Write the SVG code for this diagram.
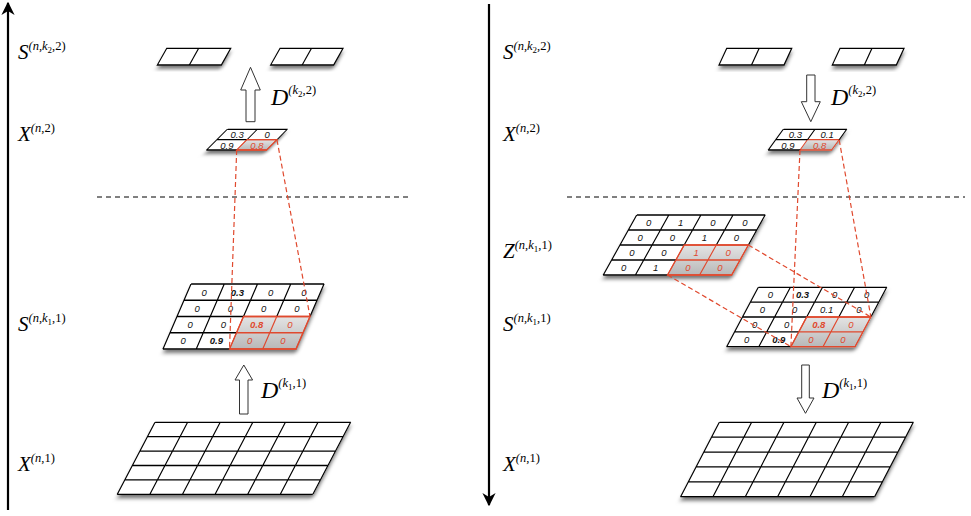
<svg xmlns="http://www.w3.org/2000/svg" width="971" height="516" viewBox="0 0 971 516">
<defs>
<style>
.g{fill:#fff;filter:url(#sh)}
.gl{fill:none;stroke:#000;stroke-width:1.3}
.hl{fill:url(#gr);stroke:#e0492e;stroke-width:1.3}
.red{fill:none;stroke:#e0492e;stroke-width:1.2;stroke-dasharray:5,3}
.hd{fill:none;stroke:#000;stroke-width:1;stroke-dasharray:5,4}
.ax{stroke:#000;stroke-width:2.2}
.ar{fill:#fff;stroke:#333;stroke-width:1}
.v{font-family:"Liberation Sans",Arial,sans-serif;font-style:italic;font-size:9.5px;text-anchor:middle;fill:#111}
.b{font-weight:bold}
.r{fill:#e0492e}
.lab{font-family:"Liberation Serif","Times New Roman",serif;font-style:italic;font-size:21px;fill:#000}
.dl{font-family:"Liberation Serif","Times New Roman",serif;font-style:italic;font-size:24px;fill:#000}
.sp{font-size:12.5px}
.sb{font-size:9px;font-style:normal}
.n{font-style:normal}
</style>
<linearGradient id="gr" x1="0" y1="0" x2="0" y2="1"><stop offset="0" stop-color="#e4e4e4"/><stop offset="1" stop-color="#b8b8b8"/></linearGradient>
<filter id="sh" x="-10%" y="-20%" width="130%" height="160%"><feDropShadow dx="2" dy="4" stdDeviation="2" flood-color="#000" flood-opacity="0.55"/></filter>
<marker id="mk" viewBox="0 0 10 10" refX="9" refY="5" markerWidth="6" markerHeight="6" orient="auto"><path d="M0,0 L10,5 L0,10 L3,5 z" fill="#000"/></marker>
</defs>
<rect width="971" height="516" fill="#fff"/>

<g id="axes">
<line class="ax" x1="8" y1="510" x2="8" y2="3" marker-end="url(#mk)"/>
<line class="ax" x1="489" y1="4" x2="489" y2="505" marker-end="url(#mk)"/>
<line class="hd" x1="97" y1="197" x2="410" y2="197"/>
<line class="hd" x1="567" y1="197" x2="965" y2="197"/>
</g>

<g id="labels">
<text class="lab" x="18" y="59">S<tspan class="sp" dy="-9">(<tspan>n</tspan><tspan class="n">,</tspan>k</tspan><tspan class="sb" dy="3">2</tspan><tspan class="sp n" dy="-3">,2)</tspan></text>
<text class="lab" x="18" y="141">X<tspan class="sp" dy="-9">(n<tspan class="n">,2)</tspan></tspan></text>
<text class="lab" x="18" y="331">S<tspan class="sp" dy="-9">(n<tspan class="n">,</tspan>k</tspan><tspan class="sb" dy="3">1</tspan><tspan class="sp n" dy="-3">,1)</tspan></text>
<text class="lab" x="18" y="471">X<tspan class="sp" dy="-9">(n<tspan class="n">,1)</tspan></tspan></text>
<text class="lab" x="503" y="59">S<tspan class="sp" dy="-9">(n<tspan class="n">,</tspan>k</tspan><tspan class="sb" dy="3">2</tspan><tspan class="sp n" dy="-3">,2)</tspan></text>
<text class="lab" x="503" y="141">X<tspan class="sp" dy="-9">(n<tspan class="n">,2)</tspan></tspan></text>
<text class="lab" x="503" y="258">Z<tspan class="sp" dy="-9">(n<tspan class="n">,</tspan>k</tspan><tspan class="sb" dy="3">1</tspan><tspan class="sp n" dy="-3">,1)</tspan></text>
<text class="lab" x="503" y="331">S<tspan class="sp" dy="-9">(n<tspan class="n">,</tspan>k</tspan><tspan class="sb" dy="3">1</tspan><tspan class="sp n" dy="-3">,1)</tspan></text>
<text class="lab" x="503" y="471">X<tspan class="sp" dy="-9">(n<tspan class="n">,1)</tspan></tspan></text>
</g>

<!-- LEFT -->
<g id="L_S2">
<g transform="translate(166.7,48.3) matrix(1,0,-0.56,1,0,0)"><rect class="g" width="64" height="16.7"/><rect class="gl" width="64" height="16.7"/><line class="gl" x1="32" y1="0" x2="32" y2="16.7"/></g>
<g transform="translate(280,48.3) matrix(1,0,-0.56,1,0,0)"><rect class="g" width="63" height="16.7"/><rect class="gl" width="63" height="16.7"/><line class="gl" x1="31.5" y1="0" x2="31.5" y2="16.7"/></g>
</g>
<g id="L_D2">
<polygon class="ar" points="246,121.7 246,90 240.7,90 250.5,67.3 260.3,90 255,90 255,121.7"/>
<text class="dl" x="271" y="105">D<tspan class="sp" dy="-11">(k</tspan><tspan class="sb" dy="3">2</tspan><tspan class="sp n" dy="-3">,2)</tspan></text>
</g>
<g id="L_X2">
<g transform="translate(227.3,129.3) matrix(1,0,-1,1,0,0)"><rect class="g" width="60" height="20.7"/><rect class="hl" x="30" y="10.35" width="30" height="10.35"/><path class="gl" d="M0,0H60M0,10.35H30M0,20.7H30M0,0V20.7M30,0V10.35M60,0V10.35"/><path d="M30,10.35H60V20.7H30Z" fill="none" stroke="#e0492e" stroke-width="1.3"/></g>
<text class="v" x="237.2" y="138">0.3</text><text class="v" x="267.2" y="138">0</text>
<text class="v" x="226.9" y="148.5">0.9</text><text class="v r" x="256.9" y="148.5">0.8</text>
</g>
<g id="L_S1">
<g transform="translate(191,284) matrix(1,0,-0.4308,1,0,0)"><rect class="g" width="133" height="65"/><rect class="hl" x="66.5" y="32.5" width="66.5" height="32.5"/>
<path class="gl" d="M0,0H133M0,16.25H133M0,32.5H66.5M0,48.75H66.5M0,65H66.5M0,0V65M33.25,0V65M66.5,0V32.5M99.75,0V32.5M133,0V32.5"/>
<path d="M66.5,32.5H133V65H66.5ZM66.5,48.75H133M99.75,32.5V65" fill="none" stroke="#e0492e" stroke-width="1.3"/></g>
<text class="v" x="204.1" y="295.5">0</text><text class="v b" x="237.4" y="295.5">0.3</text><text class="v" x="270.6" y="295.5">0</text><text class="v" x="303.9" y="295.5">0</text>
<text class="v" x="197.1" y="311.8">0</text><text class="v" x="230.4" y="311.8">0</text><text class="v" x="263.6" y="311.8">0</text><text class="v" x="296.9" y="311.8">0</text>
<text class="v" x="190.1" y="328">0</text><text class="v" x="223.4" y="328">0</text><text class="v r b" x="256.6" y="328">0.8</text><text class="v r" x="289.9" y="328">0</text>
<text class="v" x="183.1" y="344.3">0</text><text class="v b" x="216.4" y="344.3">0.9</text><text class="v r" x="249.6" y="344.3">0</text><text class="v r" x="282.9" y="344.3">0</text>
</g>
<g id="L_D1">
<polygon class="ar" points="239.5,414 239.5,380 235,380 243.8,365 252.6,380 248,380 248,414"/>
<text class="dl" x="261" y="398">D<tspan class="sp" dy="-11">(k</tspan><tspan class="sb" dy="3">1</tspan><tspan class="sp n" dy="-3">,1)</tspan></text>
</g>
<g id="L_X1">
<g transform="translate(155,422.3) matrix(1,0,-0.5236,1,0,0)"><rect class="g" width="195.6" height="72"/>
<path class="gl" d="M0,0H195.6M0,14.4H195.6M0,28.8H195.6M0,43.2H195.6M0,57.6H195.6M0,72H195.6M0,0V72M32.6,0V72M65.2,0V72M97.8,0V72M130.4,0V72M163,0V72M195.6,0V72"/></g>
</g>

<!-- RIGHT -->
<g id="R_S2">
<g transform="translate(726.7,48.3) matrix(1,0,-0.46,1,0,0)"><rect class="g" width="65" height="16.7"/><rect class="gl" width="65" height="16.7"/><line class="gl" x1="32.5" y1="0" x2="32.5" y2="16.7"/></g>
<g transform="translate(840,48.3) matrix(1,0,-0.46,1,0,0)"><rect class="g" width="64" height="16.7"/><rect class="gl" width="64" height="16.7"/><line class="gl" x1="32" y1="0" x2="32" y2="16.7"/></g>
</g>
<g id="R_D2">
<polygon class="ar" points="806.7,75 815,75 815,101.7 820.3,101.7 810.8,121.7 801.3,101.7 806.7,101.7"/>
<text class="dl" x="831" y="105">D<tspan class="sp" dy="-11">(k</tspan><tspan class="sb" dy="3">2</tspan><tspan class="sp n" dy="-3">,2)</tspan></text>
</g>
<g id="R_X2">
<g transform="translate(783.3,129.3) matrix(1,0,-0.725,1,0,0)"><rect class="g" width="63.4" height="20.7"/><rect class="hl" x="31.7" y="10.35" width="31.7" height="10.35"/><path class="gl" d="M0,0H63.4M0,10.35H31.7M0,20.7H31.7M0,0V20.7M31.7,0V10.35M63.4,0V10.35"/></g>
<text class="v" x="795.4" y="138">0.3</text><text class="v" x="827.1" y="138">0.1</text>
<text class="v" x="787.9" y="148.5">0.9</text><text class="v r" x="819.6" y="148.5">0.8</text>
</g>
<g id="R_Z">
<g transform="translate(636.7,215) matrix(1,0,-0.5567,1,0,0)"><rect class="g" width="128.4" height="60"/><rect class="hl" x="64.2" y="30" width="64.2" height="30"/>
<path class="gl" d="M0,0H128.4M0,15H128.4M0,30H64.2M0,45H64.2M0,60H64.2M0,0V60M32.1,0V60M64.2,0V30M96.3,0V30M128.4,0V30"/>
<path d="M64.2,30H128.4V60H64.2ZM64.2,45H128.4M96.3,30V60" fill="none" stroke="#e0492e" stroke-width="1.3"/></g>
<text class="v" x="648.6" y="226">0</text><text class="v" x="680.7" y="226">1</text><text class="v" x="712.8" y="226">0</text><text class="v" x="744.9" y="226">0</text>
<text class="v" x="640.2" y="241">0</text><text class="v" x="672.3" y="241">0</text><text class="v" x="704.4" y="241">1</text><text class="v" x="736.5" y="241">0</text>
<text class="v" x="631.9" y="256">0</text><text class="v" x="664" y="256">0</text><text class="v r" x="696.1" y="256">1</text><text class="v r" x="728.2" y="256">0</text>
<text class="v" x="623.6" y="271">0</text><text class="v" x="655.7" y="271">1</text><text class="v r" x="687.8" y="271">0</text><text class="v r" x="719.9" y="271">0</text>
</g>
<g id="R_S1">
<g transform="translate(758.3,287.3) matrix(1,0,-0.532,1,0,0)"><rect class="g" width="128.4" height="59.4"/><rect class="hl" x="64.2" y="29.7" width="64.2" height="29.7"/>
<path class="gl" d="M0,0H128.4M0,14.85H128.4M0,29.7H64.2M0,44.55H64.2M0,59.4H64.2M0,0V59.4M32.1,0V59.4M64.2,0V29.7M96.3,0V29.7M128.4,0V29.7"/>
<path d="M64.2,29.7H128.4V59.4H64.2ZM64.2,44.55H128.4M96.3,29.7V59.4" fill="none" stroke="#e0492e" stroke-width="1.3"/></g>
<text class="v" x="770.4" y="298">0</text><text class="v b" x="802.5" y="298">0.3</text><text class="v" x="834.6" y="298">0</text><text class="v" x="866.7" y="298">0</text>
<text class="v" x="762.5" y="313">0</text><text class="v" x="794.6" y="313">0</text><text class="v" x="826.7" y="313">0.1</text><text class="v" x="858.8" y="313">0</text>
<text class="v" x="754.6" y="327.8">0</text><text class="v" x="786.7" y="327.8">0</text><text class="v r b" x="818.8" y="327.8">0.8</text><text class="v r" x="850.9" y="327.8">0</text>
<text class="v" x="746.7" y="342.7">0</text><text class="v b" x="778.8" y="342.7">0.9</text><text class="v r" x="810.9" y="342.7">0</text><text class="v r" x="843" y="342.7">0</text>
</g>
<g id="R_D1">
<polygon class="ar" points="801.7,365 809.3,365 809.3,398 814,398 805.5,413.3 797,398 801.7,398"/>
<text class="dl" x="822" y="398">D<tspan class="sp" dy="-11">(k</tspan><tspan class="sb" dy="3">1</tspan><tspan class="sp n" dy="-3">,1)</tspan></text>
</g>
<g id="R_X1">
<g transform="translate(719.3,422.3) matrix(1,0,-0.52,1,0,0)"><rect class="g" width="194" height="74.4"/>
<path class="gl" d="M0,0H194M0,14.88H194M0,29.76H194M0,44.64H194M0,59.52H194M0,74.4H194M0,0V74.4M32.33,0V74.4M64.67,0V74.4M97,0V74.4M129.33,0V74.4M161.67,0V74.4M194,0V74.4"/></g>
</g>

<g id="connectors">
<line class="red" x1="236.7" y1="150" x2="229.5" y2="349"/>
<line class="red" x1="277" y1="140" x2="310" y2="316.5"/>
<line class="red" x1="800" y1="150" x2="790.9" y2="346.7"/>
<line class="red" x1="839.2" y1="140" x2="870.9" y2="317"/>
<line class="red" x1="748.3" y1="245" x2="870.9" y2="317"/>
<line class="red" x1="667.5" y1="275" x2="790.9" y2="346.7"/>
</g>
</svg>
